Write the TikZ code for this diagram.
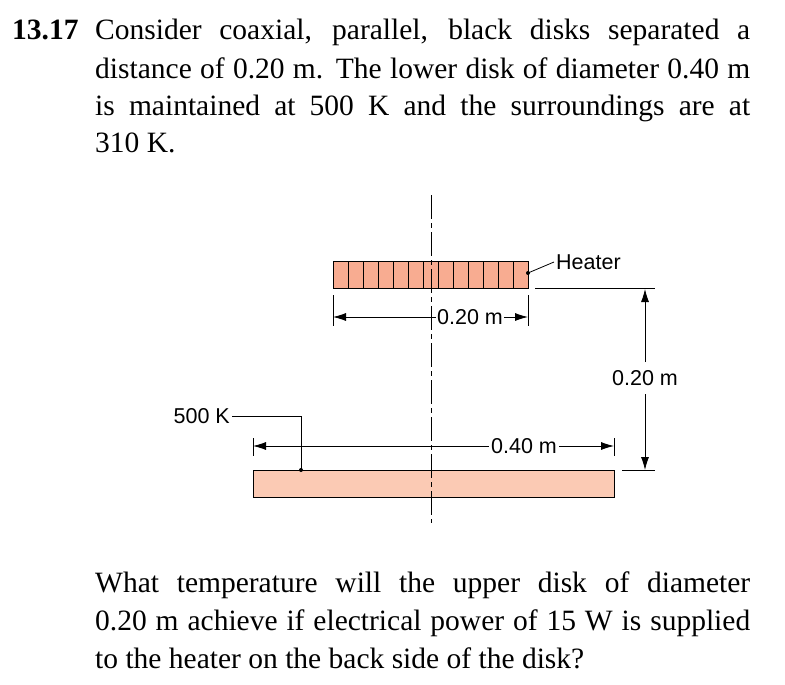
\documentclass[tikz,border=0pt]{standalone}
\usepackage{fontspec}
\usetikzlibrary{arrows.meta}
\setmainfont{Liberation Serif}
\newfontfamily\lsans{Liberation Sans}
\begin{document}
\begin{tikzpicture}[x=1pt,y=-1pt,
  body/.style={anchor=base west,inner sep=0,font=\fontsize{29.5}{32}\selectfont},
  lab/.style={inner sep=2pt,font=\lsans\fontsize{21.5}{24}\selectfont},
  dim/.style={line width=0.8pt,-{Latex[length=13pt,width=8pt]}},
  thin/.style={line width=0.8pt}]
\useasboundingbox (0,0) rectangle (785,685);
\newcommand\jl[1]{\makebox[655pt][s]{#1}}
\node[body,anchor=base west] (num) at (12,40) {\textbf{13.17}};
\node[body] (l1) at (95,40) {\jl{Consider coaxial, parallel, black disks separated a}};
\node[body] (l2) at (95,78) {\jl{distance of 0.20 m. The lower disk of diameter 0.40 m}};
\node[body] (l3) at (95,115) {\jl{is maintained at 500 K and the surroundings are at}};
\node[body] (l4) at (95,152) {310 K.};
\node[body] (b1) at (95,592) {\jl{What temperature will the upper disk of diameter}};
\node[body] (b2) at (95,630) {\jl{0.20 m achieve if electrical power of 15 W is supplied}};
\node[body] (b3) at (95,668) {to the heater on the back side of the disk?};
% disks
\definecolor{up}{RGB}{248,172,145}
\definecolor{lo}{RGB}{251,202,180}
\draw[thin,fill=up] (333,261) rectangle (528,288);
\foreach \i in {1,...,12} \draw[thin] ({333+\i*15},261) -- ({333+\i*15},288);
\draw[thin,fill=lo] (253,470) rectangle (614,497);
% centerline
\draw[thin,dash pattern=on 24pt off 4pt on 5pt off 4pt] (431,195) -- (431,523);
% 0.20 m horizontal
\draw[thin] (333,295) -- (333,326);
\draw[thin] (528,295) -- (528,326);
\node[lab,fill=white,inner xsep=1pt] (d1) at (470,317) {0.20 m};
\draw[dim] (d1.west) -- (333,317);
\draw[dim] (d1.east) -- (528,317);
% 0.40 m
\draw[thin] (253,438) -- (253,456);
\draw[thin] (614,438) -- (614,456);
\node[lab,fill=white] (d2) at (524,446) {0.40 m};
\draw[dim] (d2.west) -- (253,446);
\draw[dim] (d2.east) -- (614,446);
% vertical
\draw[thin] (535,288) -- (655,288);
\draw[thin] (622,470) -- (655,470);
\coordinate (vt) at (645,289);
\coordinate (vb) at (645,470);
\draw[dim] (645,362) -- (vt);
\draw[dim] (645,394) -- (vb);
\node[lab] (d3) at (645,378) {0.20 m};
% 500 K
\node[lab,anchor=east] (k) at (232,416) {500 K};
\coordinate (kp) at (301,470);
\draw[thin] (k.east) -- (301,416) -- (kp);
\fill (kp) circle (2pt);
% heater
\node[lab,anchor=west] (h) at (554,262) {Heater};
\coordinate (hp) at (528,273);
\draw[thin] (h.west) -- (hp);
\fill (hp) circle (2pt);
\end{tikzpicture}
\end{document}
